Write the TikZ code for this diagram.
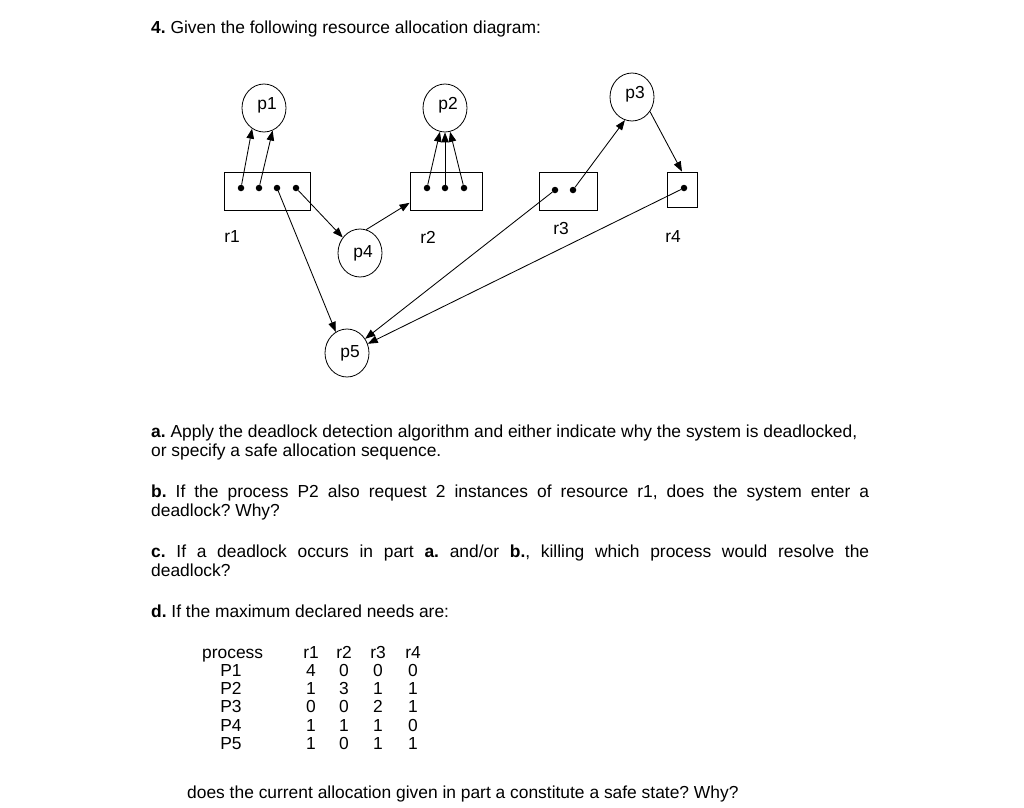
\documentclass[tikz,border=0pt]{standalone}
\usepackage{fontspec}
\setmainfont{Liberation Sans}
\usetikzlibrary{arrows.meta,shapes.geometric,calc}
\frenchspacing
\begin{document}
\begin{tikzpicture}[x=1pt,y=-1pt,
  proc/.style={draw,ellipse,minimum width=44pt,minimum height=48pt,inner sep=0pt,line width=0.8pt},
  res/.style={draw,rectangle,inner sep=0pt,line width=0.8pt},
  dot/.style={circle,fill,inner sep=0pt,minimum size=6.5pt},
  edge/.style={line width=0.85pt,-{Triangle[length=10pt,width=7.5pt]}},
  txt/.style={anchor=base west,inner sep=0pt,font=\fontsize{17.4}{20}\selectfont},
  lbl/.style={font=\fontsize{17.4}{20}\selectfont,inner sep=0pt},
  cell/.style={anchor=base,inner sep=0pt,font=\fontsize{17.4}{20}\selectfont}
]
\useasboundingbox[fill=white] (0,0) rectangle (1024,807);

% processes
\node[proc,label={[lbl,xshift=3pt,yshift=3pt]center:p1}] (p1) at (264,108) {};
\node[proc,label={[lbl,xshift=3pt,yshift=3pt]center:p2}] (p2) at (445,108) {};
\node[proc,label={[lbl,xshift=3pt,yshift=3pt]center:p3}] (p3) at (632,97) {};
\node[proc,label={[lbl,xshift=3pt,yshift=0pt]center:p4}] (p4) at (360,253) {};
\node[proc,label={[lbl,xshift=3pt,yshift=0pt]center:p5}] (p5) at (347,353) {};

% resources
\node[res,minimum width=86pt,minimum height=38pt] (r1) at (267,191) {};
\node[res,minimum width=72pt,minimum height=38pt] (r2) at (446,191) {};
\node[res,minimum width=58pt,minimum height=38pt] (r3) at (568,191) {};
\node[res,minimum width=30pt,minimum height=35pt] (r4) at (682,189.5) {};

\node[lbl] (lr1) at (232,237) {r1};
\node[lbl] (lr2) at (428,237) {r2};
\node[lbl] (lr3) at (561,229) {r3};
\node[lbl] (lr4) at (673,237) {r4};

% instances
\node[dot] (d11) at (241,188) {};
\node[dot] (d12) at (259,188) {};
\node[dot] (d13) at (277,188) {};
\node[dot] (d14) at (296,188) {};
\node[dot] (d21) at (427,188) {};
\node[dot] (d22) at (445,188) {};
\node[dot] (d23) at (464,188) {};
\node[dot] (d31) at (555,190) {};
\node[dot] (d32) at (573,190) {};
\node[dot] (d41) at (684,188) {};

% edges
\draw[edge] (d11) -- (p1.240);
\draw[edge] (d12) -- (p1.291);
\draw[edge] (d21) -- (p2.258);
\draw[edge] (d22) -- (p2.270);
\draw[edge] (d23) -- (p2.282);
\draw[edge] (d14) -- (p4.138);
\draw[edge] (p4.75) -- (r2.198);
\draw[edge] (d13) -- (p5.118);
\draw[edge] (d31) -- (p5.38);
\draw[edge] (d41) -- (p5.24);
\draw[edge] (d32) -- (p3.253);
\draw[edge] (p3.-39) -- (r4.north);

% text
\node[txt] (t0) at (151,33) {\textbf{4.} Given the following resource allocation diagram:};
\node[txt] (ta1) at (151,437) {\textbf{a.} Apply the deadlock detection algorithm and either indicate why the system is deadlocked,};
\node[txt] (ta2) at (151,456) {or specify a safe allocation sequence.};
\node[txt] (tb1) at (151,497) {\makebox[718pt][s]{\textbf{b.} If the process P2 also request 2 instances of resource r1, does the system enter a}};
\node[txt] (tb2) at (151,516) {deadlock? Why?};
\node[txt] (tc1) at (151,557) {\makebox[718pt][s]{\textbf{c.} If a deadlock occurs in part \textbf{a.} and/or \textbf{b.}, killing which process would resolve the}};
\node[txt] (tc2) at (151,576) {deadlock?};
\node[txt] (td) at (151,617) {\textbf{d.} If the maximum declared needs are:};

% table
\node[txt] (th) at (202,658) {process};
\foreach \x/\h in {311/r1,344/r2,378/r3,413/r4} \node[cell] at (\x,658) {\h};
\foreach \y/\p/\a/\b/\c/\d in {676/P1/4/0/0/0, 694/P2/1/3/1/1, 712/P3/0/0/2/1, 731/P4/1/1/1/0, 749/P5/1/0/1/1}{
  \node[cell] at (231,\y) {\p};
  \node[cell] at (311,\y) {\a};
  \node[cell] at (344,\y) {\b};
  \node[cell] at (378,\y) {\c};
  \node[cell] at (413,\y) {\d};
}
\node[txt] (tf) at (187,798) {does the current allocation given in part a constitute a safe state? Why?};
\end{tikzpicture}
\end{document}
